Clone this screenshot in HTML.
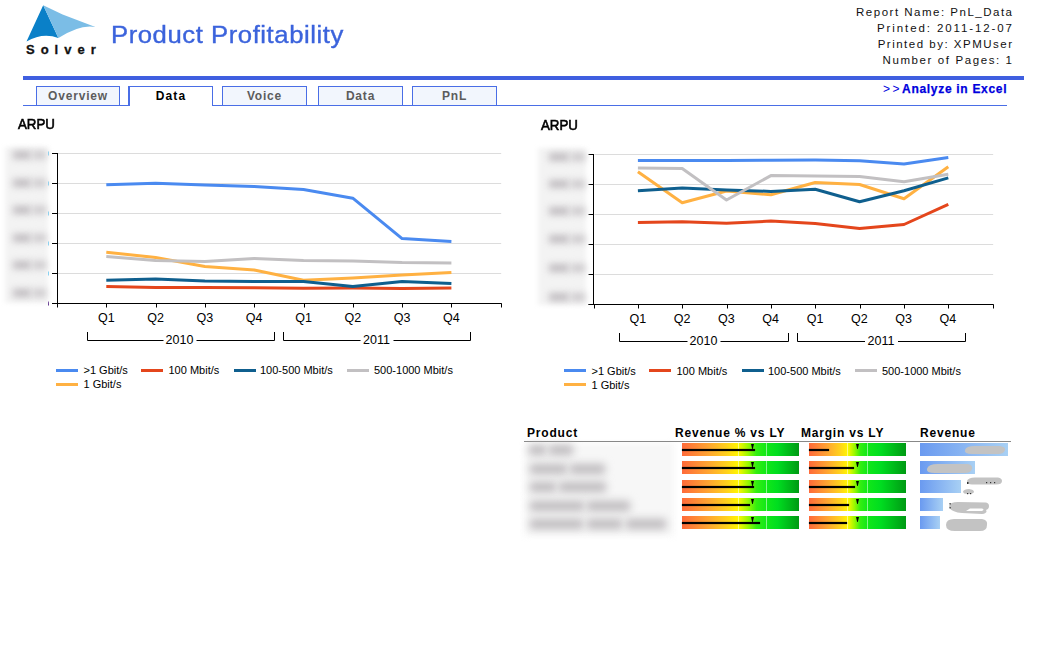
<!DOCTYPE html>
<html><head><meta charset="utf-8"><style>
html,body{margin:0;padding:0;background:#fff;width:1051px;height:650px;overflow:hidden;position:relative;font-family:"Liberation Sans", sans-serif}
div{position:absolute}
.ql{width:40px;text-align:center;font-size:12.5px;line-height:14px;color:#000}
.lg{font-size:11px;line-height:14px;color:#000;white-space:nowrap}
.bl{font-size:11px;line-height:14px;color:#777;font-weight:bold;filter:blur(2.5px);white-space:nowrap}
.hdr{font-size:11.5px;line-height:16px;color:#111;white-space:nowrap;text-align:right;right:37.5px;letter-spacing:1.5px}
.tab{top:86px;height:18px;width:83px;border:1px solid #4a6ee6;border-bottom:none;background:#f2f6fd;color:#5c5c5c;font-weight:bold;font-size:12px;line-height:18px;text-align:center;letter-spacing:0.8px}
</style></head><body>
<svg style="position:absolute;left:0;top:0" width="1051" height="650" viewBox="0 0 1051 650">
<path d="M43.2,5.3 L26.5,41.5 Q43,32 58.4,38.1 Z" fill="#0a80c8"/>
<path d="M43.2,5.3 L62.6,14.5 L95.4,27 Q80,24 58.4,38.1 Z" fill="#7bbde6"/>
<rect x="23" y="76" width="1001" height="4" fill="#3f5fe0"/>
<rect x="23" y="105" width="984" height="1" fill="#4a6ee6"/>
<rect x="48" y="151.5" width="1" height="4" fill="#3fbdf5"/>
<rect x="48" y="181.5" width="1" height="4" fill="#3fbdf5"/>
<rect x="48" y="211.5" width="1" height="4" fill="#3fbdf5"/>
<rect x="48" y="241.5" width="1" height="4" fill="#3fbdf5"/>
<rect x="48" y="271.5" width="1" height="4" fill="#3fbdf5"/>
<rect x="48" y="301.5" width="1" height="4" fill="#5a2a8a"/>
<line x1="58" y1="153.5" x2="501.2" y2="153.5" stroke="#dcdcdc" stroke-width="1"/>
<line x1="52" y1="153.5" x2="57" y2="153.5" stroke="#000" stroke-width="1"/>
<line x1="58" y1="183.5" x2="501.2" y2="183.5" stroke="#dcdcdc" stroke-width="1"/>
<line x1="52" y1="183.5" x2="57" y2="183.5" stroke="#000" stroke-width="1"/>
<line x1="58" y1="213.5" x2="501.2" y2="213.5" stroke="#dcdcdc" stroke-width="1"/>
<line x1="52" y1="213.5" x2="57" y2="213.5" stroke="#000" stroke-width="1"/>
<line x1="58" y1="243.5" x2="501.2" y2="243.5" stroke="#dcdcdc" stroke-width="1"/>
<line x1="52" y1="243.5" x2="57" y2="243.5" stroke="#000" stroke-width="1"/>
<line x1="58" y1="273.5" x2="501.2" y2="273.5" stroke="#dcdcdc" stroke-width="1"/>
<line x1="52" y1="273.5" x2="57" y2="273.5" stroke="#000" stroke-width="1"/>
<line x1="52" y1="303.5" x2="57" y2="303.5" stroke="#000" stroke-width="1"/>
<line x1="57.5" y1="153" x2="57.5" y2="304" stroke="#000" stroke-width="1"/>
<line x1="52" y1="303.5" x2="501.7" y2="303.5" stroke="#000" stroke-width="1"/>
<line x1="57.5" y1="303.5" x2="57.5" y2="307.5" stroke="#000" stroke-width="1"/>
<line x1="106.5" y1="303.5" x2="106.5" y2="307.5" stroke="#000" stroke-width="1"/>
<line x1="156.5" y1="303.5" x2="156.5" y2="307.5" stroke="#000" stroke-width="1"/>
<line x1="205.5" y1="303.5" x2="205.5" y2="307.5" stroke="#000" stroke-width="1"/>
<line x1="254.5" y1="303.5" x2="254.5" y2="307.5" stroke="#000" stroke-width="1"/>
<line x1="304.5" y1="303.5" x2="304.5" y2="307.5" stroke="#000" stroke-width="1"/>
<line x1="353.5" y1="303.5" x2="353.5" y2="307.5" stroke="#000" stroke-width="1"/>
<line x1="402.5" y1="303.5" x2="402.5" y2="307.5" stroke="#000" stroke-width="1"/>
<line x1="451.5" y1="303.5" x2="451.5" y2="307.5" stroke="#000" stroke-width="1"/>
<line x1="501.5" y1="303.5" x2="501.5" y2="307.5" stroke="#000" stroke-width="1"/>
<polyline points="106.3,252.2 155.6,257.4 204.9,266.4 254.2,270.0 303.5,280.2 352.8,278.0 402.1,275.0 451.4,272.4" fill="none" stroke="#ffb142" stroke-width="3" stroke-linejoin="round" stroke-linecap="butt"/>
<polyline points="106.3,286.6 155.6,287.4 204.9,287.4 254.2,287.8 303.5,288.2 352.8,288.0 402.1,288.4 451.4,288.0" fill="none" stroke="#e4461c" stroke-width="3" stroke-linejoin="round" stroke-linecap="butt"/>
<polyline points="106.3,280.2 155.6,279.0 204.9,281.0 254.2,281.6 303.5,281.4 352.8,286.6 402.1,281.4 451.4,283.4" fill="none" stroke="#0f5f8e" stroke-width="3" stroke-linejoin="round" stroke-linecap="butt"/>
<polyline points="106.3,256.6 155.6,260.4 204.9,261.6 254.2,258.4 303.5,260.6 352.8,261.0 402.1,262.6 451.4,263.0" fill="none" stroke="#c2c0c2" stroke-width="3" stroke-linejoin="round" stroke-linecap="butt"/>
<polyline points="106.3,184.8 155.6,183.2 204.9,185.0 254.2,186.4 303.5,189.4 352.8,198.2 402.1,238.6 451.4,241.4" fill="none" stroke="#4a8af0" stroke-width="3" stroke-linejoin="round" stroke-linecap="butt"/>
<line x1="594.5" y1="154.5" x2="993.1500000000001" y2="154.5" stroke="#dcdcdc" stroke-width="1"/>
<line x1="588.5" y1="154.5" x2="593.5" y2="154.5" stroke="#000" stroke-width="1"/>
<line x1="594.5" y1="184.5" x2="993.1500000000001" y2="184.5" stroke="#dcdcdc" stroke-width="1"/>
<line x1="588.5" y1="184.5" x2="593.5" y2="184.5" stroke="#000" stroke-width="1"/>
<line x1="594.5" y1="214.5" x2="993.1500000000001" y2="214.5" stroke="#dcdcdc" stroke-width="1"/>
<line x1="588.5" y1="214.5" x2="593.5" y2="214.5" stroke="#000" stroke-width="1"/>
<line x1="594.5" y1="244.5" x2="993.1500000000001" y2="244.5" stroke="#dcdcdc" stroke-width="1"/>
<line x1="588.5" y1="244.5" x2="593.5" y2="244.5" stroke="#000" stroke-width="1"/>
<line x1="594.5" y1="274.5" x2="993.1500000000001" y2="274.5" stroke="#dcdcdc" stroke-width="1"/>
<line x1="588.5" y1="274.5" x2="593.5" y2="274.5" stroke="#000" stroke-width="1"/>
<line x1="588.5" y1="304.5" x2="593.5" y2="304.5" stroke="#000" stroke-width="1"/>
<line x1="593.5" y1="154" x2="593.5" y2="305" stroke="#000" stroke-width="1"/>
<line x1="588.5" y1="304.5" x2="993.6500000000001" y2="304.5" stroke="#000" stroke-width="1"/>
<line x1="594.5" y1="304.5" x2="594.5" y2="308.5" stroke="#000" stroke-width="1"/>
<line x1="638.5" y1="304.5" x2="638.5" y2="308.5" stroke="#000" stroke-width="1"/>
<line x1="682.5" y1="304.5" x2="682.5" y2="308.5" stroke="#000" stroke-width="1"/>
<line x1="727.5" y1="304.5" x2="727.5" y2="308.5" stroke="#000" stroke-width="1"/>
<line x1="771.5" y1="304.5" x2="771.5" y2="308.5" stroke="#000" stroke-width="1"/>
<line x1="815.5" y1="304.5" x2="815.5" y2="308.5" stroke="#000" stroke-width="1"/>
<line x1="860.5" y1="304.5" x2="860.5" y2="308.5" stroke="#000" stroke-width="1"/>
<line x1="904.5" y1="304.5" x2="904.5" y2="308.5" stroke="#000" stroke-width="1"/>
<line x1="948.5" y1="304.5" x2="948.5" y2="308.5" stroke="#000" stroke-width="1"/>
<line x1="993.5" y1="304.5" x2="993.5" y2="308.5" stroke="#000" stroke-width="1"/>
<polyline points="637.9,171.8 682.2,202.8 726.5,191.0 770.9,194.8 815.2,182.5 859.6,184.5 904.0,198.7 948.3,166.7" fill="none" stroke="#ffb142" stroke-width="3" stroke-linejoin="round" stroke-linecap="butt"/>
<polyline points="637.9,222.4 682.2,221.8 726.5,223.2 770.9,221.1 815.2,223.4 859.6,228.6 904.0,224.5 948.3,204.4" fill="none" stroke="#e4461c" stroke-width="3" stroke-linejoin="round" stroke-linecap="butt"/>
<polyline points="637.9,190.8 682.2,188.1 726.5,189.9 770.9,191.4 815.2,189.3 859.6,201.7 904.0,190.7 948.3,177.9" fill="none" stroke="#0f5f8e" stroke-width="3" stroke-linejoin="round" stroke-linecap="butt"/>
<polyline points="637.9,168.0 682.2,168.5 726.5,200.0 770.9,175.6 815.2,176.1 859.6,176.5 904.0,181.8 948.3,174.3" fill="none" stroke="#c2c0c2" stroke-width="3" stroke-linejoin="round" stroke-linecap="butt"/>
<polyline points="637.9,160.4 682.2,160.4 726.5,160.4 770.9,160.2 815.2,160.1 859.6,160.8 904.0,164.0 948.3,157.4" fill="none" stroke="#4a8af0" stroke-width="3" stroke-linejoin="round" stroke-linecap="butt"/>
<path d="M87.5,332 V340.5 H163.5" fill="none" stroke="#000" stroke-width="1"/>
<path d="M196.5,340.5 H274.5 V332" fill="none" stroke="#000" stroke-width="1"/>
<path d="M283.5,332 V340.5 H360.5" fill="none" stroke="#000" stroke-width="1"/>
<path d="M393.5,340.5 H470.5 V332" fill="none" stroke="#000" stroke-width="1"/>
<path d="M619.5,333 V341.5 H687.5" fill="none" stroke="#000" stroke-width="1"/>
<path d="M720.5,341.5 H788.5 V333" fill="none" stroke="#000" stroke-width="1"/>
<path d="M797.5,333 V341.5 H865" fill="none" stroke="#000" stroke-width="1"/>
<path d="M898,341.5 H965.5 V333" fill="none" stroke="#000" stroke-width="1"/>
</svg>
<div style="left:26px;top:42px;font-size:13px;font-weight:bold;letter-spacing:6px;line-height:15px;color:#111;-webkit-text-stroke:0.3px #111">Solver</div>
<div style="left:111px;top:22px;font-size:23px;line-height:26px;color:#3b63dc;letter-spacing:0.5px;transform:scaleX(1.116);transform-origin:0 0;-webkit-text-stroke:0.35px #3b63dc;white-space:nowrap">Product Profitability</div>
<div class="hdr" style="top:4px">Report Name: PnL_Data</div>
<div class="hdr" style="top:20px;letter-spacing:1.9px;right:37.1px">Printed: 2011-12-07</div>
<div class="hdr" style="top:36px">Printed by: XPMUser</div>
<div class="hdr" style="top:52px;letter-spacing:1.6px;right:37.4px">Number of Pages: 1</div>
<div class="tab" style="left:36px;width:82px">Overview</div>
<div class="tab" style="left:128px;width:82px;border-left:2px solid #4a6ee6;background:#fff;color:#000;height:19px;letter-spacing:1.1px">Data</div>
<div class="tab" style="left:222px">Voice</div>
<div class="tab" style="left:318px">Data</div>
<div class="tab" style="left:412px">PnL</div>
<div style="left:883px;top:82px;font-size:12px;line-height:14px;color:#0000dd;white-space:nowrap"><span style="letter-spacing:2.5px">&gt;&gt;</span><b style="letter-spacing:0.7px;-webkit-text-stroke:0.25px #0000dd">Analyze in Excel</b></div>
<div style="left:18px;top:116px;font-size:14px;line-height:16px;color:#000;-webkit-text-stroke:0.6px #000;transform:scaleX(0.95);transform-origin:0 0">ARPU</div>
<div style="left:541px;top:117px;font-size:14px;line-height:16px;color:#000;-webkit-text-stroke:0.6px #000;transform:scaleX(0.95);transform-origin:0 0">ARPU</div>
<div style="left:5px;top:147px;width:43px;height:156px;background:#f3f3f3;filter:blur(2px)"></div>
<div style="left:13px;top:151px;width:18px;height:8px;background:#c0bcc0;filter:blur(3.5px)"></div>
<div style="left:33px;top:151px;width:13px;height:8px;background:#cbc8cb;filter:blur(3.5px)"></div>
<div style="left:13px;top:178.5px;width:18px;height:8px;background:#c0bcc0;filter:blur(3.5px)"></div>
<div style="left:33px;top:178.5px;width:13px;height:8px;background:#cbc8cb;filter:blur(3.5px)"></div>
<div style="left:13px;top:206px;width:18px;height:8px;background:#c0bcc0;filter:blur(3.5px)"></div>
<div style="left:33px;top:206px;width:13px;height:8px;background:#cbc8cb;filter:blur(3.5px)"></div>
<div style="left:13px;top:233.5px;width:18px;height:8px;background:#c0bcc0;filter:blur(3.5px)"></div>
<div style="left:33px;top:233.5px;width:13px;height:8px;background:#cbc8cb;filter:blur(3.5px)"></div>
<div style="left:13px;top:261px;width:18px;height:8px;background:#c0bcc0;filter:blur(3.5px)"></div>
<div style="left:33px;top:261px;width:13px;height:8px;background:#cbc8cb;filter:blur(3.5px)"></div>
<div style="left:13px;top:288.5px;width:18px;height:8px;background:#c0bcc0;filter:blur(3.5px)"></div>
<div style="left:33px;top:288.5px;width:13px;height:8px;background:#cbc8cb;filter:blur(3.5px)"></div>
<div style="left:538px;top:148px;width:48px;height:157px;background:#f3f3f3;filter:blur(2px)"></div>
<div style="left:549px;top:153px;width:20px;height:8px;background:#c0bcc0;filter:blur(3.5px)"></div>
<div style="left:571px;top:153px;width:14px;height:8px;background:#cbc8cb;filter:blur(3.5px)"></div>
<div style="left:549px;top:179.5px;width:20px;height:8px;background:#c0bcc0;filter:blur(3.5px)"></div>
<div style="left:571px;top:179.5px;width:14px;height:8px;background:#cbc8cb;filter:blur(3.5px)"></div>
<div style="left:549px;top:206.5px;width:20px;height:8px;background:#c0bcc0;filter:blur(3.5px)"></div>
<div style="left:571px;top:206.5px;width:14px;height:8px;background:#cbc8cb;filter:blur(3.5px)"></div>
<div style="left:549px;top:235px;width:20px;height:8px;background:#c0bcc0;filter:blur(3.5px)"></div>
<div style="left:571px;top:235px;width:14px;height:8px;background:#cbc8cb;filter:blur(3.5px)"></div>
<div style="left:549px;top:264px;width:20px;height:8px;background:#c0bcc0;filter:blur(3.5px)"></div>
<div style="left:571px;top:264px;width:14px;height:8px;background:#cbc8cb;filter:blur(3.5px)"></div>
<div style="left:549px;top:292.5px;width:20px;height:8px;background:#c0bcc0;filter:blur(3.5px)"></div>
<div style="left:571px;top:292.5px;width:14px;height:8px;background:#cbc8cb;filter:blur(3.5px)"></div>
<div class="ql" style="left:86.3px;top:311px">Q1</div>
<div class="ql" style="left:135.6px;top:311px">Q2</div>
<div class="ql" style="left:184.9px;top:311px">Q3</div>
<div class="ql" style="left:234.2px;top:311px">Q4</div>
<div class="ql" style="left:283.5px;top:311px">Q1</div>
<div class="ql" style="left:332.8px;top:311px">Q2</div>
<div class="ql" style="left:382.1px;top:311px">Q3</div>
<div class="ql" style="left:431.4px;top:311px">Q4</div>
<div class="ql" style="left:617.8px;top:312px">Q1</div>
<div class="ql" style="left:662.1px;top:312px">Q2</div>
<div class="ql" style="left:706.4px;top:312px">Q3</div>
<div class="ql" style="left:750.7px;top:312px">Q4</div>
<div class="ql" style="left:795.0px;top:312px">Q1</div>
<div class="ql" style="left:839.3px;top:312px">Q2</div>
<div class="ql" style="left:883.6px;top:312px">Q3</div>
<div class="ql" style="left:927.9px;top:312px">Q4</div>
<div class="ql" style="left:159.5px;top:333px">2010</div>
<div class="ql" style="left:356.5px;top:333px">2011</div>
<div class="ql" style="left:683.5px;top:334px">2010</div>
<div class="ql" style="left:861px;top:334px">2011</div>
<div style="position:absolute;left:56px;top:368.5px;width:22px;height:3px;background:#4a8af0"></div>
<div class="lg" style="left:83.5px;top:363.0px">>1 Gbit/s</div>
<div style="position:absolute;left:141px;top:368.5px;width:22px;height:3px;background:#e4461c"></div>
<div class="lg" style="left:168.5px;top:363.0px">100 Mbit/s</div>
<div style="position:absolute;left:233.5px;top:368.5px;width:22px;height:3px;background:#0f5f8e"></div>
<div class="lg" style="left:260px;top:363.0px">100-500 Mbit/s</div>
<div style="position:absolute;left:347px;top:368.5px;width:22px;height:3px;background:#c2c0c2"></div>
<div class="lg" style="left:374px;top:363.0px">500-1000 Mbit/s</div>
<div style="position:absolute;left:56px;top:382.5px;width:22px;height:3px;background:#ffb142"></div>
<div class="lg" style="left:83.5px;top:377.0px">1 Gbit/s</div>
<div style="position:absolute;left:564px;top:369.0px;width:22px;height:3px;background:#4a8af0"></div>
<div class="lg" style="left:591.5px;top:363.5px">>1 Gbit/s</div>
<div style="position:absolute;left:649px;top:369.0px;width:22px;height:3px;background:#e4461c"></div>
<div class="lg" style="left:676.5px;top:363.5px">100 Mbit/s</div>
<div style="position:absolute;left:741.5px;top:369.0px;width:22px;height:3px;background:#0f5f8e"></div>
<div class="lg" style="left:768px;top:363.5px">100-500 Mbit/s</div>
<div style="position:absolute;left:855px;top:369.0px;width:22px;height:3px;background:#c2c0c2"></div>
<div class="lg" style="left:882px;top:363.5px">500-1000 Mbit/s</div>
<div style="position:absolute;left:564px;top:383.0px;width:22px;height:3px;background:#ffb142"></div>
<div class="lg" style="left:591.5px;top:377.5px">1 Gbit/s</div>
<div style="left:524px;top:443px;width:150px;height:93px;background:#f7f7f7;filter:blur(3px)"></div>
<div style="left:527px;top:426px;font-size:12px;font-weight:bold;line-height:14px;color:#000;letter-spacing:0.8px">Product</div>
<div style="left:675px;top:426px;font-size:12px;font-weight:bold;line-height:14px;color:#000;letter-spacing:0.8px">Revenue % vs LY</div>
<div style="left:801px;top:426px;font-size:12px;font-weight:bold;line-height:14px;color:#000;letter-spacing:0.8px">Margin vs LY</div>
<div style="left:920px;top:426px;font-size:12px;font-weight:bold;line-height:14px;color:#000;letter-spacing:0.8px">Revenue</div>
<div style="left:524px;top:441px;width:487px;height:1px;background:#888"></div>
<div style="left:529px;top:445.4px;width:17px;height:10px;background:#bdbabd;filter:blur(4px)"></div>
<div style="left:549px;top:445.4px;width:24px;height:10px;background:#bdbabd;filter:blur(4px)"></div>
<div style="left:682px;top:443px;width:117px;height:13px;background:linear-gradient(90deg,#ff6a3a 0%,#ffa232 21.6%,#ffd21c 38.4%,#fff600 48.0%,#99f800 56.4%,#33ee11 63.6%,#11e818 72.0%,#00dd20 81.8%,#009a14 100%)"></div>
<div style="left:738px;top:443px;width:1px;height:13px;background:rgba(255,255,255,0.5)"></div>
<div style="left:766px;top:443px;width:1px;height:13px;background:rgba(255,255,255,0.5)"></div>
<div style="left:682px;top:448.5px;width:73px;height:2px;background:#000;box-shadow:0 0 1px #000"></div>
<div style="left:751px;top:444px;width:3px;height:5px;background:#000;clip-path:polygon(0 0,100% 0,60% 100%,40% 100%)"></div>
<div style="left:809px;top:443px;width:97px;height:13px;background:linear-gradient(90deg,#ff6a3a 0%,#ffa232 18.0%,#ffd21c 32.0%,#fff600 40.0%,#99f800 47.0%,#33ee11 53.0%,#11e818 60.0%,#00dd20 74.0%,#009a14 100%)"></div>
<div style="left:847px;top:443px;width:1px;height:13px;background:rgba(255,255,255,0.5)"></div>
<div style="left:867px;top:443px;width:1px;height:13px;background:rgba(255,255,255,0.5)"></div>
<div style="left:809px;top:448.5px;width:20px;height:2px;background:#000;box-shadow:0 0 1px #000"></div>
<div style="left:856px;top:444px;width:3px;height:5px;background:#000;clip-path:polygon(0 0,100% 0,60% 100%,40% 100%)"></div>
<div style="left:920px;top:443px;width:88px;height:13px;background:linear-gradient(90deg,#6a9af0,#a8d0f4)"></div>
<div style="left:530px;top:463.9px;width:37px;height:10px;background:#bdbabd;filter:blur(4px)"></div>
<div style="left:570px;top:463.9px;width:35px;height:10px;background:#bdbabd;filter:blur(4px)"></div>
<div style="left:682px;top:461px;width:117px;height:13px;background:linear-gradient(90deg,#ff6a3a 0%,#ffa232 21.6%,#ffd21c 38.4%,#fff600 48.0%,#99f800 56.4%,#33ee11 63.6%,#11e818 72.0%,#00dd20 81.8%,#009a14 100%)"></div>
<div style="left:738px;top:461px;width:1px;height:13px;background:rgba(255,255,255,0.5)"></div>
<div style="left:766px;top:461px;width:1px;height:13px;background:rgba(255,255,255,0.5)"></div>
<div style="left:682px;top:466.5px;width:73px;height:2px;background:#000;box-shadow:0 0 1px #000"></div>
<div style="left:751px;top:462px;width:3px;height:5px;background:#000;clip-path:polygon(0 0,100% 0,60% 100%,40% 100%)"></div>
<div style="left:809px;top:461px;width:97px;height:13px;background:linear-gradient(90deg,#ff6a3a 0%,#ffa232 18.0%,#ffd21c 32.0%,#fff600 40.0%,#99f800 47.0%,#33ee11 53.0%,#11e818 60.0%,#00dd20 74.0%,#009a14 100%)"></div>
<div style="left:847px;top:461px;width:1px;height:13px;background:rgba(255,255,255,0.5)"></div>
<div style="left:867px;top:461px;width:1px;height:13px;background:rgba(255,255,255,0.5)"></div>
<div style="left:809px;top:466.5px;width:45px;height:2px;background:#000;box-shadow:0 0 1px #000"></div>
<div style="left:856px;top:462px;width:3px;height:5px;background:#000;clip-path:polygon(0 0,100% 0,60% 100%,40% 100%)"></div>
<div style="left:920px;top:461px;width:55px;height:13px;background:linear-gradient(90deg,#6a9af0,#a8d0f4)"></div>
<div style="left:530px;top:481.8px;width:26px;height:10px;background:#bdbabd;filter:blur(4px)"></div>
<div style="left:559px;top:481.8px;width:47px;height:10px;background:#bdbabd;filter:blur(4px)"></div>
<div style="left:682px;top:480px;width:117px;height:13px;background:linear-gradient(90deg,#ff6a3a 0%,#ffa232 21.6%,#ffd21c 38.4%,#fff600 48.0%,#99f800 56.4%,#33ee11 63.6%,#11e818 72.0%,#00dd20 81.8%,#009a14 100%)"></div>
<div style="left:738px;top:480px;width:1px;height:13px;background:rgba(255,255,255,0.5)"></div>
<div style="left:766px;top:480px;width:1px;height:13px;background:rgba(255,255,255,0.5)"></div>
<div style="left:682px;top:485.5px;width:72px;height:2px;background:#000;box-shadow:0 0 1px #000"></div>
<div style="left:751px;top:481px;width:3px;height:5px;background:#000;clip-path:polygon(0 0,100% 0,60% 100%,40% 100%)"></div>
<div style="left:809px;top:480px;width:97px;height:13px;background:linear-gradient(90deg,#ff6a3a 0%,#ffa232 18.0%,#ffd21c 32.0%,#fff600 40.0%,#99f800 47.0%,#33ee11 53.0%,#11e818 60.0%,#00dd20 74.0%,#009a14 100%)"></div>
<div style="left:847px;top:480px;width:1px;height:13px;background:rgba(255,255,255,0.5)"></div>
<div style="left:867px;top:480px;width:1px;height:13px;background:rgba(255,255,255,0.5)"></div>
<div style="left:809px;top:485.5px;width:46px;height:2px;background:#000;box-shadow:0 0 1px #000"></div>
<div style="left:856px;top:481px;width:3px;height:5px;background:#000;clip-path:polygon(0 0,100% 0,60% 100%,40% 100%)"></div>
<div style="left:920px;top:480px;width:41px;height:13px;background:linear-gradient(90deg,#6a9af0,#a8d0f4)"></div>
<div style="left:530px;top:500.8px;width:54px;height:10px;background:#bdbabd;filter:blur(4px)"></div>
<div style="left:587px;top:500.8px;width:43px;height:10px;background:#bdbabd;filter:blur(4px)"></div>
<div style="left:682px;top:498px;width:117px;height:13px;background:linear-gradient(90deg,#ff6a3a 0%,#ffa232 21.6%,#ffd21c 38.4%,#fff600 48.0%,#99f800 56.4%,#33ee11 63.6%,#11e818 72.0%,#00dd20 81.8%,#009a14 100%)"></div>
<div style="left:738px;top:498px;width:1px;height:13px;background:rgba(255,255,255,0.5)"></div>
<div style="left:766px;top:498px;width:1px;height:13px;background:rgba(255,255,255,0.5)"></div>
<div style="left:682px;top:503.5px;width:68px;height:2px;background:#000;box-shadow:0 0 1px #000"></div>
<div style="left:751px;top:499px;width:3px;height:5px;background:#000;clip-path:polygon(0 0,100% 0,60% 100%,40% 100%)"></div>
<div style="left:809px;top:498px;width:97px;height:13px;background:linear-gradient(90deg,#ff6a3a 0%,#ffa232 18.0%,#ffd21c 32.0%,#fff600 40.0%,#99f800 47.0%,#33ee11 53.0%,#11e818 60.0%,#00dd20 74.0%,#009a14 100%)"></div>
<div style="left:847px;top:498px;width:1px;height:13px;background:rgba(255,255,255,0.5)"></div>
<div style="left:867px;top:498px;width:1px;height:13px;background:rgba(255,255,255,0.5)"></div>
<div style="left:809px;top:503.5px;width:40px;height:2px;background:#000;box-shadow:0 0 1px #000"></div>
<div style="left:856px;top:499px;width:3px;height:5px;background:#000;clip-path:polygon(0 0,100% 0,60% 100%,40% 100%)"></div>
<div style="left:920px;top:498px;width:23px;height:13px;background:linear-gradient(90deg,#6a9af0,#a8d0f4)"></div>
<div style="left:530px;top:519.3px;width:53px;height:10px;background:#bdbabd;filter:blur(4px)"></div>
<div style="left:587px;top:519.3px;width:35px;height:10px;background:#bdbabd;filter:blur(4px)"></div>
<div style="left:626px;top:519.3px;width:40px;height:10px;background:#bdbabd;filter:blur(4px)"></div>
<div style="left:682px;top:516px;width:117px;height:13px;background:linear-gradient(90deg,#ff6a3a 0%,#ffa232 21.6%,#ffd21c 38.4%,#fff600 48.0%,#99f800 56.4%,#33ee11 63.6%,#11e818 72.0%,#00dd20 81.8%,#009a14 100%)"></div>
<div style="left:738px;top:516px;width:1px;height:13px;background:rgba(255,255,255,0.5)"></div>
<div style="left:766px;top:516px;width:1px;height:13px;background:rgba(255,255,255,0.5)"></div>
<div style="left:682px;top:521.5px;width:78px;height:2px;background:#000;box-shadow:0 0 1px #000"></div>
<div style="left:751px;top:517px;width:3px;height:5px;background:#000;clip-path:polygon(0 0,100% 0,60% 100%,40% 100%)"></div>
<div style="left:809px;top:516px;width:97px;height:13px;background:linear-gradient(90deg,#ff6a3a 0%,#ffa232 18.0%,#ffd21c 32.0%,#fff600 40.0%,#99f800 47.0%,#33ee11 53.0%,#11e818 60.0%,#00dd20 74.0%,#009a14 100%)"></div>
<div style="left:847px;top:516px;width:1px;height:13px;background:rgba(255,255,255,0.5)"></div>
<div style="left:867px;top:516px;width:1px;height:13px;background:rgba(255,255,255,0.5)"></div>
<div style="left:809px;top:521.5px;width:38px;height:2px;background:#000;box-shadow:0 0 1px #000"></div>
<div style="left:856px;top:517px;width:3px;height:5px;background:#000;clip-path:polygon(0 0,100% 0,60% 100%,40% 100%)"></div>
<div style="left:920px;top:516px;width:20px;height:13px;background:linear-gradient(90deg,#6a9af0,#a8d0f4)"></div>
<svg style="position:absolute;left:0;top:0" width="1051" height="650" viewBox="0 0 1051 650">
<g fill="#c3c3c3">
<path d="M965,450 Q966,446 975,446 L1000,446 Q1006,447 1005,450 Q1004,454 998,454 L972,454 Q964,454 965,450 Z"/>
<path d="M927,469 Q928,464 938,464 L968,464 Q973,465 972,469 Q971,473 965,473 L935,473 Q926,473 927,469 Z"/>
<path d="M967,481 Q968,477.5 975,477.5 L998,477.5 Q1002,478 1002,481 Q1002,484.5 996,484.5 L972,484.5 Q967,484.5 967,481 Z"/>
<path d="M963,491.5 Q964,489 969,489 Q974,489.5 974,492 Q973,494 968,494 Q963,494 963,491.5 Z"/>
<path d="M949,506 Q950,502 958,502 L986,502.5 Q989,503 989,506 Q989,509 986,510 Q988,513 982,514 L962,513 Q950,512 949,506 Z"/>
<path d="M946,525 Q946,519 954,519 L982,519 Q988,520 987,525 Q987,531 980,531 L955,531 Q946,531 946,525 Z"/>
</g>
<g fill="#fff"><path d="M970,508.5 L982,508.5 Q985,509.5 982,511 L966,511 Z"/></g>
<g fill="#333">
<rect x="967" y="482" width="1.5" height="2"/><rect x="986" y="482" width="1.2" height="1.2"/><rect x="990" y="482" width="1.2" height="1.2"/><rect x="994" y="482" width="1.2" height="1.2"/>
<rect x="967" y="493" width="1.2" height="1.2"/><rect x="970" y="493" width="1.2" height="1.2"/>
<rect x="949.5" y="503" width="1.2" height="1.5"/><rect x="949.5" y="507" width="1.2" height="1.5"/>
</g>
</svg>
</body></html>
